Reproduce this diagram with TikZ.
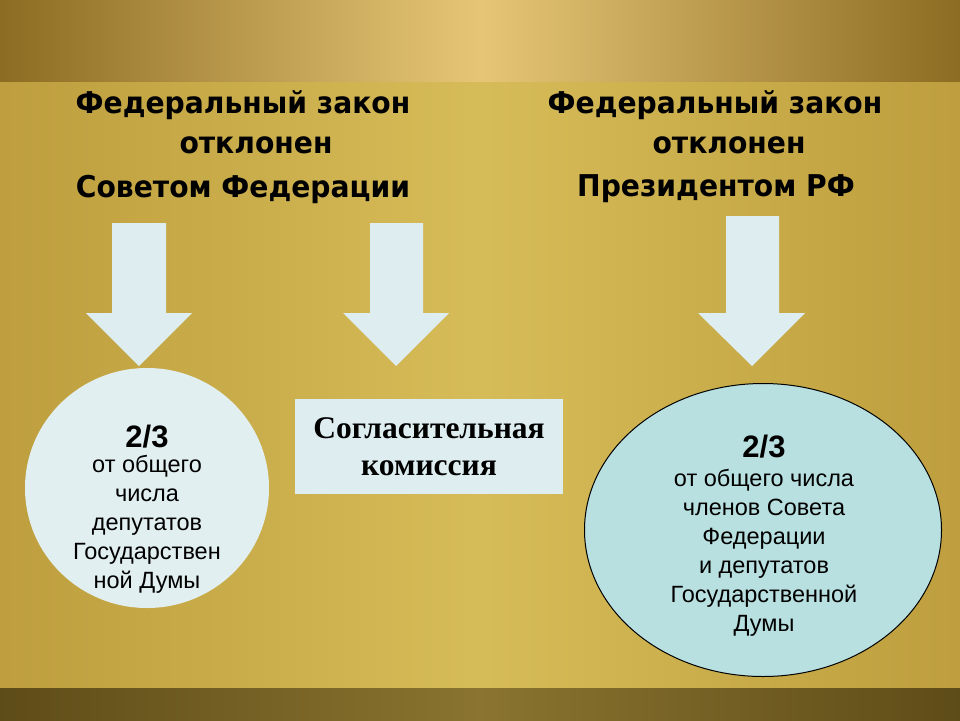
\documentclass[tikz,border=0pt]{standalone}
\usepackage{fontspec}
\setmainfont{Liberation Sans}
\newfontfamily\serifbold{Liberation Serif}
\newfontfamily\headfont[FakeStretch=0.94]{DejaVu Sans}
\usetikzlibrary{shapes.geometric}
\definecolor{topL}{HTML}{8C6C22}
\definecolor{topC}{HTML}{E6C676}
\definecolor{midL}{HTML}{BE9E3E}
\definecolor{midC}{HTML}{D6BC58}
\definecolor{botL}{HTML}{5E4C18}
\definecolor{botC}{HTML}{8A7430}
\definecolor{arrowfill}{HTML}{DDEDF0}
\definecolor{circfill}{HTML}{E2EFF0}
\definecolor{ellfill}{HTML}{B9E0E0}
\tikzset{
  blockarrow/.style={fill=arrowfill, draw=none},
  heading/.style={font=\headfont\bfseries\fontsize{30}{30}\selectfont, inner sep=0pt},
  bodytext/.style={font=\fontsize{23.5}{29}\selectfont, align=center, inner sep=0pt},
  fraction/.style={font=\bfseries\fontsize{31}{31}\selectfont, inner sep=0pt}
}
\begin{document}
\begin{tikzpicture}[x=1pt,y=-1pt]
\useasboundingbox (0,0) rectangle (960,720);
% background
\shade[left color=topL, right color=topC] (0,0) rectangle (480,82);
\shade[left color=topC, right color=topL] (480,0) rectangle (960,82);
\shade[left color=midL, right color=midC] (0,82) rectangle (480,688);
\shade[left color=midC, right color=midL] (480,82) rectangle (960,688);
\shade[left color=botL, right color=botC] (0,688) rectangle (480,720);
\shade[left color=botC, right color=botL] (480,688) rectangle (960,720);
% headings
\node[heading] (h1a) at (243,105) {Федеральный закон};
\node[heading] (h1b) at (256,145) {отклонен};
\node[heading] (h1c) at (243,189) {Советом Федерации};
\node[heading] (h2a) at (715,105) {Федеральный закон};
\node[heading] (h2b) at (729,145) {отклонен};
\node[heading] (h2c) at (716,189) {Президентом РФ};
% arrows
\fill[blockarrow] (112,223) -- (166,223) -- (166,313) -- (192,313) -- (139,366) -- (86,313) -- (112,313) -- cycle;
\fill[blockarrow] (370,223) -- (423,223) -- (423,313) -- (449,313) -- (396,366) -- (343,313) -- (370,313) -- cycle;
\fill[blockarrow] (726,216) -- (779,216) -- (779,313) -- (805,313) -- (752,366) -- (698,313) -- (726,313) -- cycle;
% left circle
\node[ellipse, fill=circfill, minimum width=244, minimum height=240, inner sep=0pt] (c1) at (147,488) {};
\node[fraction] (c1f) at (147,437) {2/3};
\node[bodytext, anchor=north] (c1t) at (147,455) {от общего\\числа\\депутатов\\Государствен\\ной Думы};
% middle box
\node[fill=arrowfill, minimum width=268, minimum height=95, inner sep=0pt] (box) at (429,446.5) {};
\node[font=\serifbold\bfseries\fontsize{31.5}{37}\selectfont, align=center, inner sep=0pt] (boxt) at (429,447) {Согласительная\\комиссия};
% right ellipse
\node[ellipse, fill=ellfill, draw=black, line width=1pt, minimum width=357, minimum height=293, inner sep=0pt] (c2) at (763,530) {};
\node[fraction] (c2f) at (764,447) {2/3};
\node[bodytext, anchor=north] (c2t) at (764,469) {от общего числа\\членов Совета\\Федерации\\и депутатов\\Государственной\\Думы};
\end{tikzpicture}
\end{document}
